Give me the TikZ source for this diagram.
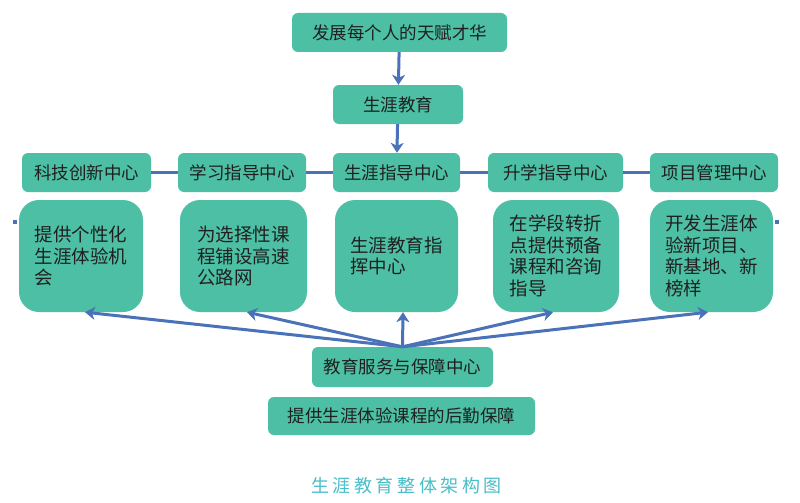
\documentclass[tikz,border=0pt]{standalone}
\usepackage{fontspec}
\setmainfont{Noto Sans CJK SC}
\usetikzlibrary{arrows.meta}
\definecolor{boxc}{RGB}{76,191,164}
\definecolor{arrc}{RGB}{74,114,184}
\definecolor{txtc}{RGB}{32,32,32}
\definecolor{capc}{RGB}{72,190,200}
\tikzset{
  sbox/.style={fill=boxc, rounded corners=6pt, text=txtc, inner sep=0pt,
    font=\fontsize{17.5}{21}\selectfont, minimum height=39pt},
  bbox/.style={fill=boxc, rounded corners=20pt, text=txtc, inner sep=0pt,
    font=\fontsize{18.5}{21.5}\selectfont, align=left, minimum height=112pt},
  conn/.style={draw=arrc, line width=3pt},
  arr/.style={draw=arrc, line width=3pt, -{Stealth[length=10pt,width=13pt,inset=3pt]}},
}
\begin{document}
\begin{tikzpicture}[x=1pt,y=-1pt]
\useasboundingbox (0,0) rectangle (800,503);
\fill[white] (0,0) rectangle (800,503);

\node[sbox, minimum width=215pt] (top) at (399.5,32.5) {发展每个人的天赋才华};
\node[sbox, minimum width=130pt] (edu) at (398,104.5) {生涯教育};

\node[sbox, minimum width=129pt] (r1) at (86.5,172.5) {科技创新中心};
\node[sbox, minimum width=128pt] (r2) at (242,172.5) {学习指导中心};
\node[sbox, minimum width=127pt] (r3) at (396.5,172.5) {生涯指导中心};
\node[sbox, minimum width=135pt] (r4) at (555.5,172.5) {升学指导中心};
\node[sbox, minimum width=128pt] (r5) at (714,172.5) {项目管理中心};

\node[bbox, minimum width=124pt] (b1) at (81,256) {提供个性化\\生涯体验机\\会};
\node[bbox, minimum width=127pt] (b2) at (243.5,256) {为选择性课\\程铺设高速\\公路网};
\node[bbox, minimum width=123pt] (b3) at (396.5,256) {生涯教育指\\挥中心};
\node[bbox, minimum width=126pt] (b4) at (556,256) {在学段转折\\点提供预备\\课程和咨询\\指导};
\node[bbox, minimum width=123pt] (b5) at (711.5,256) {开发生涯体\\验新项目、\\新基地、新\\榜样};

\node[sbox, minimum width=181pt, minimum height=40pt] (svc) at (402.5,367) {教育服务与保障中心};
\node[sbox, minimum width=267pt, minimum height=38pt] (bot) at (401.5,416) {提供生涯体验课程的后勤保障};

\node[text=capc, font=\fontsize{18}{22}\selectfont] (cap) at (406.5,486)
  {生\kern3.5pt 涯\kern3.5pt 教\kern3.5pt 育\kern3.5pt 整\kern3.5pt 体\kern3.5pt 架\kern3.5pt 构\kern3.5pt 图};

\draw[arr] (top) -- (edu);
\draw[arr] (edu) -- (r3);
\draw[conn] (r1) -- (r2);
\draw[conn] (r2) -- (r3);
\draw[conn] (r3) -- (r4);
\draw[conn] (r4) -- (r5);

\coordinate (src) at (svc.north);
\draw[arr] (src) -- ([xshift=4pt]b1.south);
\draw[arr] (src) -- ([xshift=3.5pt]b2.south);
\draw[arr] (src) -- ([xshift=6.5pt]b3.south);
\draw[arr] (src) -- ([xshift=-3pt]b4.south);
\draw[arr] (src) -- ([xshift=-3.5pt]b5.south);

\fill[arrc] (13,220) rectangle (17,224);
\fill[arrc] (775,220) rectangle (779,224);
\end{tikzpicture}
\end{document}
